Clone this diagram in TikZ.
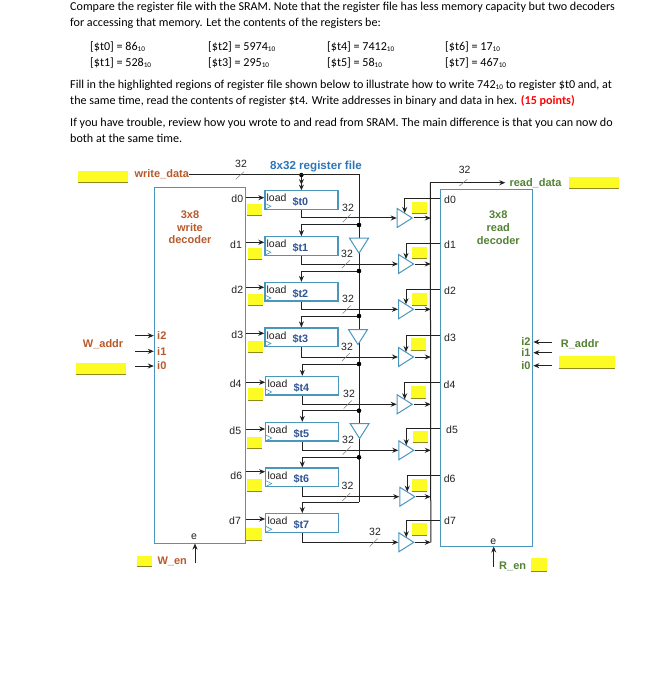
\documentclass[tikz,border=0pt]{standalone}
\usepackage{fontspec}
\setmainfont{Liberation Sans}
\newfontfamily\bodyfont{Carlito}
\usetikzlibrary{arrows.meta,shapes.geometric}
\definecolor{boxblue}{HTML}{4A97BE}
\definecolor{ttl}{HTML}{2E75B6}
\definecolor{regt}{HTML}{2F5597}
\definecolor{wcol}{HTML}{B85A2A}
\definecolor{rcol}{HTML}{548235}
\definecolor{hl}{HTML}{FCFC24}
\definecolor{hlb}{HTML}{8F8A1E}
\definecolor{ln}{HTML}{222222}
\newcommand{\tn}{\raisebox{-0.6pt}{\fontsize{7.2}{7}\selectfont 10}}
\newcommand{\hlbox}[4]{\fill[hl] (#1,#2) rectangle (#3,#4); \draw[hlb,line width=.8pt] (#1,#4) -- (#3,#4);}
\tikzset{
 x=1pt,y=-1pt,
 wire/.style={ln,line width=1pt},
 arr/.style={wire,-{Stealth[length=6pt,width=5pt]}},
 arrd/.style={wire,-{Stealth[length=5.5pt,width=5pt] Stealth[length=5.5pt,width=5pt]}},
 jdot/.style={circle,fill=black,inner sep=0,minimum size=4.4pt},
 slash/.style={gray,line width=.5pt},
 decbox/.style={draw=boxblue,line width=1pt,inner sep=0,minimum width=91pt},
 regbox/.style={draw=boxblue,line width=1.2pt,inner sep=0,minimum width=73pt,minimum height=18.5pt},
 buf/.style={isosceles triangle,isosceles triangle stretches,draw=boxblue,fill=white,line width=1pt,inner sep=0,minimum width=19pt,minimum height=15pt,anchor=lower side},
 bufd/.style={buf,shape border rotate=270},
 lab/.style={inner sep=0,text height=7.6pt,text depth=0pt,font=\fontsize{10.5}{11}\selectfont,text=ln},
 blab/.style={lab,font=\fontsize{11}{12}\selectfont\bfseries},
 wl/.style={blab,text=wcol},
 rl/.style={blab,text=rcol},
 body/.style={inner sep=0,anchor=base west,font=\bodyfont\fontsize{12.1}{13}\selectfont},
}
\begin{document}
\begin{tikzpicture}
\useasboundingbox[fill=white] (0,0) rectangle (649,684);
% question text
\node[body] (q1) at (70,10.7) {Compare the register file with the SRAM. Note that the register file has less memory capacity but two decoders};
\node[body] (q2) at (70,26.9) {for accessing that memory. Let the contents of the registers be:};
\node[body] (c0) at (90,50.7) {[\$t0] = 86\tn};
\node[body] (c1) at (90,66.7) {[\$t1] = 528\tn};
\node[body] (c2) at (208,50.7) {[\$t2] = 5974\tn};
\node[body] (c3) at (208,66.7) {[\$t3] = 295\tn};
\node[body] (c4) at (327,50.7) {[\$t4] = 7412\tn};
\node[body] (c5) at (327,66.7) {[\$t5] = 58\tn};
\node[body] (c6) at (445,50.7) {[\$t6] = 17\tn};
\node[body] (c7) at (445,66.7) {[\$t7] = 467\tn};
\node[body] (q3) at (70,88.7) {Fill in the highlighted regions of register file shown below to illustrate how to write 742\tn{} to register \$t0 and, at};
\node[body] (q4) at (70,104.9) {the same time, read the contents of register \$t4. Write addresses in binary and data in hex. \textcolor{red}{\textbf{(15 points)}}};
\node[body] (q5) at (70,126.7) {If you have trouble, review how you wrote to and read from SRAM. The main difference is that you can now do};
\node[body] (q6) at (70,142.9) {both at the same time.};
% decoders
\node[decbox,minimum height=355pt] (wdec) at (199.8,365.5) {};
\node[decbox,minimum height=356pt,minimum width=92pt] (rdec) at (486.7,368) {};
% registers
\foreach \i/\x/\y in {0/301.4/200,1/301.4/246,2/301.4/291.7,3/301.4/337.2,4/302.3/385.7,5/302.3/431.7,6/302.3/477.3,7/302.3/523}{
  \node[regbox] (r\i) at (\x,\y) {};
  \draw[boxblue,line width=.6pt] (\x-36.2,\y+3.5) -- (\x-30.5,\y+6.3) -- (\x-36.2,\y+9);
  \node[lab,anchor=west] (ld\i) at (\x-35,\y-2) {load};
  \node[blab,anchor=center,text=regt,font=\fontsize{10.8}{12}\selectfont\bfseries] (tl\i) at (\x-1,\y+1.7) {\$t\i};
}
% junctions
\coordinate (wtop) at (359,175);
\node[jdot] (jw) at (301.4,175) {};
\foreach \i/\y in {1/225,2/271,3/316,4/364,5/410.7,6/457.3}{ \node[jdot] (j\i) at (359,\y) {}; }
\coordinate (j7) at (359,502.3);
% buses
\node[wl,anchor=west] (wd) at (134.3,174) {write\_data};
\draw[wire] (wd.east |- wtop) -- (wtop) -- (j7);
\draw[arrd] (jw) -- (r0.north);
\foreach \i in {1,...,7}{ \draw[arr] (j\i) -| (r\i.north); }
\node[bufd] (s1) at (359,237.7) {};
\node[bufd] (s3) at (358,329) {};
\node[bufd] (s5) at (359.6,423) {};
% read buffers
\foreach \i/\x/\y in {0/396.7/218,1/398/264,2/398/309.3,3/398/357,4/396.7/404.3,5/398.3/450.3,6/399.3/496.7,7/398.3/542.3}{
  \node[buf] (b\i) at (\x,\y) {};
  \draw[arr] (r\i.south) |- (b\i.lower side);
  \coordinate (bus\i) at (430.8,\y);
  \draw[arr] (b\i.apex) -- (bus\i);
}
\coordinate (rtop) at (430.3,182.7);
\node[rl,anchor=west] (rd) at (509.3,182.7) {read\_data};
\draw[wire] (bus7) -- (rtop);
\draw[arr,shorten >=4pt] (rtop) -- (rd.west);
% write decoder outputs
\foreach \i/\y/\ly/\lx in {0/197.7/198.3/237.3,1/242.3/244.3/236,2/287.3/289.3/237.3,3/333.3/335/237.3,4/382.3/383.3/235.7,5/429/430.7/235.3,6/471.7/475.3/236.3,7/519/520.3/235}{
  \draw[arr] (wdec.east |- 0,\y) -- (r\i.west |- 0,\y);
  \node[lab] (wo\i) at (\lx,\ly) {d\i};
}
% read decoder outputs and enables
\foreach \i/\y/\lx/\ly in {0/198.3/444/200,1/243.3/444/244.3,2/289.3/444/291,3/335/444/337.3,4/382.7/443.5/384.7,5/428.3/446/430,6/475/443.7/478.3,7/520/444/521}{
  \draw[arr] (rdec.west |- 0,\y) -| ([shift={(8,-5)}]b\i.lower side);
  \node[lab,anchor=west] (ro\i) at (\lx,\ly) {d\i};
}
\foreach \i in {1,...,6}{ \node[jdot] at (j\i) {}; }
% bus width marks
\node[lab] (n32w) at (241,164) {32};
\draw[slash] (235.7,179.3) -- (244,171.7);
\node[lab] (n32r) at (464.7,170) {32};
\draw[slash] (459.3,186) -- (467.3,179.3);
\foreach \n/\x/\y in {0/348/218,1/347/264,2/348/309.3,3/347/357,4/349/404.3,5/348/450.3,6/347.5/496.7,7/375/542.3}{
  \node[lab] (w\n) at (\x,\y-10.7) {32};
  \draw[slash] (\x-5.3,\y+4.3) -- (\x+2.7,\y-3.7);
}
% decoder titles
\node[wl,align=center,font=\fontsize{11}{12.9}\selectfont\bfseries,text height=,text depth=] (wt) at (190,227.3) {3x8\\write\\decoder};
\node[rl,align=center,font=\fontsize{11}{12.9}\selectfont\bfseries,text height=,text depth=] (rt) at (498.3,227.5) {3x8\\read\\decoder};
\node[blab,anchor=west,text=ttl,font=\fontsize{11.6}{12}\selectfont\bfseries] (title) at (270,165.7) {8x32 register file};
% addresses
\node[wl,anchor=west] (wa) at (82.7,344) {W\_addr};
\foreach \n/\y in {2/335.7,1/351.3,0/366}{
  \coordinate (wi\n) at (135,\y);
  \draw[arr] (wi\n) -- (wdec.west |- wi\n);
  \node[wl,anchor=west] (wil\n) at (157,\y) {i\n};
}
\node[rl,anchor=west] (ra) at (560.7,343.3) {R\_addr};
\foreach \n/\y in {2/342,1/352.7,0/365.7}{
  \coordinate (ri\n) at (552.3,\y);
  \draw[arr] (ri\n) -- (533.3,\y);
  \node[rl,anchor=east] (ril\n) at (530.7,\y) {i\n};
}
% enables
\node[lab] (we) at (194,535.7) {e};
\coordinate (wec) at (195,563.3);
\draw[arr] (wec) -- (wdec.south -| wec);
\node[wl,anchor=west] (wen) at (157.3,560.3) {W\_en};
\node[lab] (re) at (493.3,540.7) {e};
\coordinate (rec) at (493.7,566.7);
\draw[arr] (rec) -- (rdec.south -| rec);
\node[rl,anchor=west] (ren) at (499,566) {R\_en};
% highlighted regions
\hlbox{78.3}{171}{127.7}{182.3}
\hlbox{76}{363.3}{126}{374}
\hlbox{137}{555.7}{152}{566.7}
\hlbox{569.3}{176.7}{619}{188.3}
\hlbox{558.7}{355.7}{614.7}{368.3}
\hlbox{531}{558.3}{547.3}{571.7}
\foreach \a/\b/\c/\d in {247.3/204/262/215.7,248/248.3/262/259.3,248.3/294/263.3/305.7,248.3/341/263.3/352.3,248.3/388.3/263.3/400.7,247.3/436.7/262/448.3,247.3/479.3/262/491,246/528.3/261.7/540,411.7/201.7/426.7/213.3,411.7/246.7/426.7/258.3,411.7/292.7/426.7/305,410.7/338/426/350,410.7/386/426/398.3,412.7/431/428/442.7,411.7/479.3/426.7/491.7,412/523.3/427.3/535}{
  \hlbox{\a}{\b}{\c}{\d}
}
\end{tikzpicture}
\end{document}
